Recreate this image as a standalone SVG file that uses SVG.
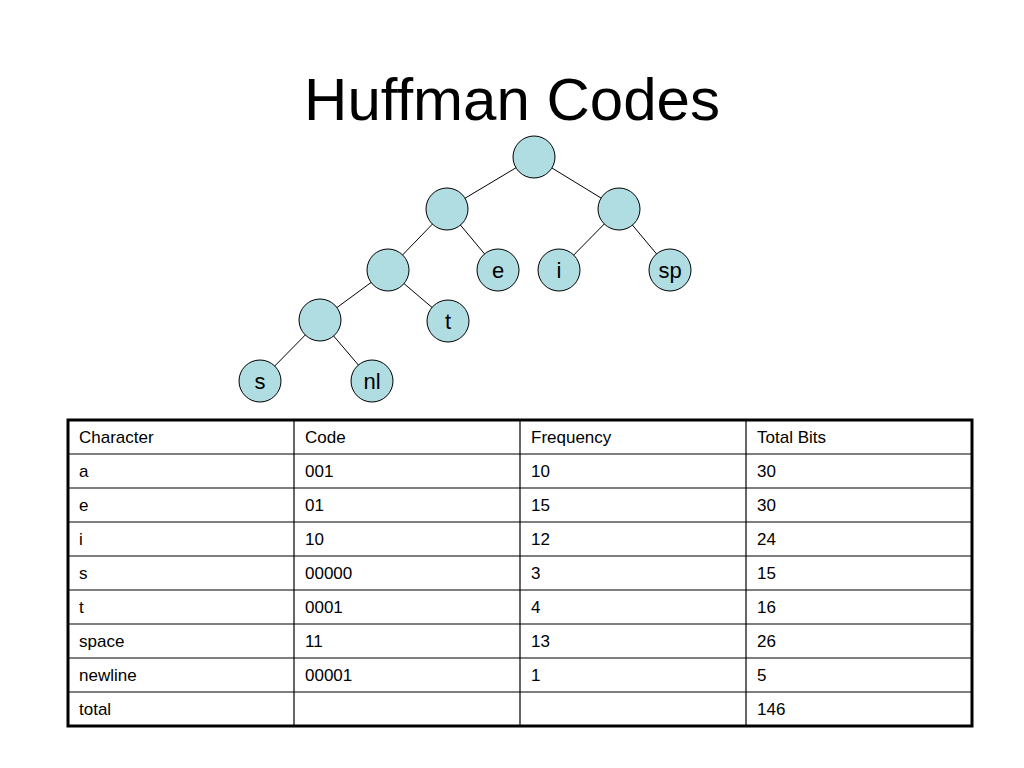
<svg xmlns="http://www.w3.org/2000/svg" width="1024" height="768" viewBox="0 0 1024 768">
<style>
text{font-family:"Liberation Sans",Arial,sans-serif;fill:#000}
.n{fill:#b0dde2;stroke:#000;stroke-width:1}
.l{font-size:22px;text-anchor:middle}
.t{font-size:17px}
.e{stroke:#000;stroke-width:1}
.g{stroke:#000;stroke-width:1.2}
</style>
<rect width="1024" height="768" fill="#fff"/>
<text x="512" y="120" font-size="60" text-anchor="middle">Huffman Codes</text>
<g id="connectors">
<line class="e" x1="534" y1="157" x2="447" y2="209"/>
<line class="e" x1="534" y1="157" x2="619" y2="209"/>
<line class="e" x1="447" y1="209" x2="388" y2="270"/>
<line class="e" x1="447" y1="209" x2="498" y2="270"/>
<line class="e" x1="619" y1="209" x2="559" y2="270"/>
<line class="e" x1="619" y1="209" x2="670" y2="270"/>
<line class="e" x1="388" y1="270" x2="320" y2="320"/>
<line class="e" x1="388" y1="270" x2="448" y2="321"/>
<line class="e" x1="320" y1="320" x2="260" y2="381"/>
<line class="e" x1="320" y1="320" x2="372" y2="381"/>
</g>
<g id="root"><circle class="n" cx="534" cy="157" r="21"/></g>
<g id="n0"><circle class="n" cx="447" cy="209" r="21"/></g>
<g id="n1"><circle class="n" cx="619" cy="209" r="21"/></g>
<g id="n00"><circle class="n" cx="388" cy="270" r="21"/></g>
<g id="e"><circle class="n" cx="498" cy="270" r="21"/><text class="l" x="498" y="278">e</text></g>
<g id="i"><circle class="n" cx="559" cy="270" r="21"/><text class="l" x="559" y="278">i</text></g>
<g id="sp"><circle class="n" cx="670" cy="270" r="21"/><text class="l" x="670" y="278">sp</text></g>
<g id="n000"><circle class="n" cx="320" cy="320" r="21"/></g>
<g id="t"><circle class="n" cx="448" cy="321" r="21"/><text class="l" x="448" y="329">t</text></g>
<g id="s"><circle class="n" cx="260" cy="381" r="21"/><text class="l" x="260" y="389">s</text></g>
<g id="nl"><circle class="n" cx="372" cy="381" r="21"/><text class="l" x="372" y="389">nl</text></g>
<g id="table">
<g class="g">
<line x1="68" y1="454" x2="972" y2="454"/><line x1="68" y1="488" x2="972" y2="488"/>
<line x1="68" y1="522" x2="972" y2="522"/><line x1="68" y1="556" x2="972" y2="556"/>
<line x1="68" y1="590" x2="972" y2="590"/><line x1="68" y1="624" x2="972" y2="624"/>
<line x1="68" y1="658" x2="972" y2="658"/><line x1="68" y1="692" x2="972" y2="692"/>
<line x1="294" y1="420" x2="294" y2="726"/><line x1="520" y1="420" x2="520" y2="726"/>
<line x1="746" y1="420" x2="746" y2="726"/>
</g>
<rect x="68" y="420" width="904" height="306" fill="none" stroke="#000" stroke-width="3"/>
<g class="t">
<text x="79" y="443">Character</text><text x="305" y="443">Code</text><text x="531" y="443">Frequency</text><text x="757" y="443">Total Bits</text>
<text x="79" y="477">a</text><text x="305" y="477">001</text><text x="531" y="477">10</text><text x="757" y="477">30</text>
<text x="79" y="511">e</text><text x="305" y="511">01</text><text x="531" y="511">15</text><text x="757" y="511">30</text>
<text x="79" y="545">i</text><text x="305" y="545">10</text><text x="531" y="545">12</text><text x="757" y="545">24</text>
<text x="79" y="579">s</text><text x="305" y="579">00000</text><text x="531" y="579">3</text><text x="757" y="579">15</text>
<text x="79" y="613">t</text><text x="305" y="613">0001</text><text x="531" y="613">4</text><text x="757" y="613">16</text>
<text x="79" y="647">space</text><text x="305" y="647">11</text><text x="531" y="647">13</text><text x="757" y="647">26</text>
<text x="79" y="681">newline</text><text x="305" y="681">00001</text><text x="531" y="681">1</text><text x="757" y="681">5</text>
<text x="79" y="715">total</text><text x="757" y="715">146</text>
</g>
</g>
</svg>
